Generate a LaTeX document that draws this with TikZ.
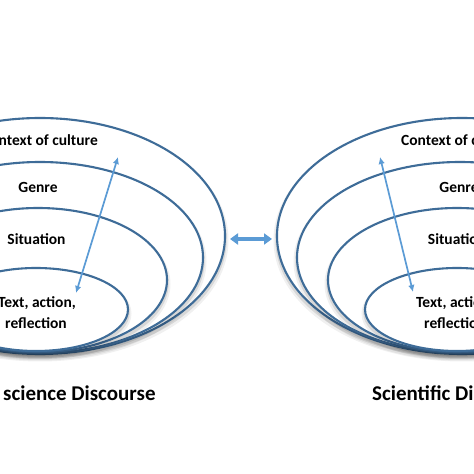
\documentclass[tikz,border=0pt]{standalone}
\usepackage{fontspec}
\setmainfont{Carlito}
\usetikzlibrary{arrows.meta}
\definecolor{rim}{RGB}{62,108,152}
\definecolor{arr}{RGB}{91,155,213}
\newcommand\myBowl[4]{%
  \draw[black, opacity=0.06, line width=7pt] (#1,#2-4) ellipse [x radius=#3, y radius=#4];
  \draw[black, opacity=0.10, line width=3.5pt] (#1,#2-3) ellipse [x radius=#3, y radius=#4];
  \draw[rimline] (#1,#2) ellipse [x radius=#3, y radius=#4];
}
\begin{document}
\begin{tikzpicture}[x=1pt,y=1pt,
  rimline/.style={draw=rim, line width=2.1pt, fill=white},
  lbl/.style={font=\fontsize{15.5}{18}\selectfont\bfseries, inner sep=0pt, text=black},
  big/.style={font=\fontsize{21}{25}\selectfont\bfseries, inner sep=0pt, text=black},
  dblarrow/.style={draw=arr, line width=1.7pt, {Latex[length=7pt,width=6.5pt]}-{Latex[length=7pt,width=6.5pt]}},
  fatarrow/.style={draw=arr, line width=3.8pt, {Triangle[length=8pt,width=11pt]}-{Triangle[length=8pt,width=11pt]}},
]
\useasboundingbox (0,0) rectangle (474,474);
\clip (0,0) rectangle (474,474);
\fill[white] (0,0) rectangle (474,474);

% left set
\myBowl{40}{238}{185}{118}
\myBowl{40}{216.5}{163}{95.5}
\myBowl{38}{194}{129}{72}
\myBowl{36}{164.5}{92}{41.5}

% right set
\myBowl{462}{238}{185}{118}
\myBowl{460}{216.5}{163}{95.5}
\myBowl{457}{194}{129}{72}
\myBowl{457}{164.5}{92}{41.5}

% labels left
\node[lbl] (c1) at (40,334) {Context of culture};
\node[lbl] (g1) at (38,287) {Genre};
\node[lbl] (s1) at (36.5,235) {Situation};
\node[lbl] (t1) at (37,171) {Text, action,};
\node[lbl] (r1) at (36,151) {reflection};

% labels right
\node[lbl] (c2) at (459,334) {Context of culture};
\node[lbl] (g2) at (459,287) {Genre};
\node[lbl] (s2) at (457,235) {Situation};
\node[lbl] (t2) at (455,171) {Text, action,};
\node[lbl] (r2) at (455,151) {reflection};

% arrows
\coordinate (a1top) at (118,317);
\coordinate (a1bot) at (76,181);
\draw[dblarrow] (a1top) -- (a1bot);
\coordinate (a2top) at (380,317);
\coordinate (a2bot) at (413,182);
\draw[dblarrow] (a2top) -- (a2bot);
\coordinate (ml) at (230,235);
\coordinate (mr) at (272,235);
\draw[fatarrow] (ml) -- (mr);

% bottom labels
\node[big, anchor=west] (bl) at (3,81) {science Discourse};
\node[big, anchor=west] (br) at (372,81) {Scientific Discourse};
\end{tikzpicture}
\end{document}
